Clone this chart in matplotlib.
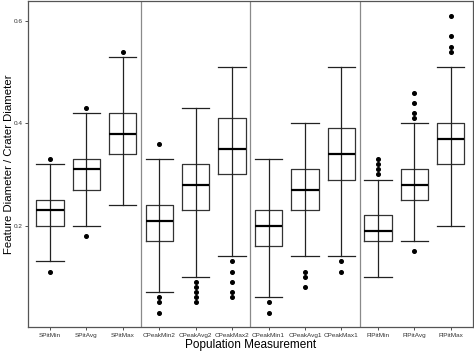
import matplotlib
matplotlib.use("Agg")
import matplotlib.pyplot as plt

plt.rcParams['font.family'] = ['Liberation Sans', 'DejaVu Sans']

# Box statistics
names = ['SPitMin', 'SPitAvg', 'SPitMax',
         'CPeakMin2', 'CPeakAvg2', 'CPeakMax2',
         'CPeakMin1', 'CPeakAvg1', 'CPeakMax1',
         'FlPitMin', 'FlPitAvg', 'FlPitMax']
whislo = [0.13, 0.20, 0.24, 0.07, 0.10, 0.14, 0.06, 0.14, 0.14, 0.10, 0.17, 0.20]
q1 = [0.20, 0.27, 0.34, 0.17, 0.23, 0.30, 0.16, 0.23, 0.29, 0.17, 0.25, 0.32]
med = [0.23, 0.31, 0.38, 0.21, 0.28, 0.35, 0.20, 0.27, 0.34, 0.19, 0.28, 0.37]
q3 = [0.25, 0.33, 0.42, 0.24, 0.32, 0.41, 0.23, 0.31, 0.39, 0.22, 0.31, 0.40]
whishi = [0.32, 0.42, 0.53, 0.33, 0.43, 0.51, 0.33, 0.40, 0.51, 0.29, 0.40, 0.51]
fliers = [
    [0.33, 0.11],
    [0.43, 0.18],
    [0.54],
    [0.36, 0.06, 0.05, 0.03],
    [0.09, 0.08, 0.07, 0.06, 0.05],
    [0.13, 0.11, 0.09, 0.07, 0.06],
    [0.05, 0.03],
    [0.11, 0.10, 0.08],
    [0.13, 0.11],
    [0.33, 0.32, 0.31, 0.30],
    [0.46, 0.44, 0.42, 0.41, 0.15],
    [0.61, 0.57, 0.55, 0.54],
]

stats = []
for i in range(len(names)):
    stats.append(dict(label=names[i], whislo=whislo[i], q1=q1[i], med=med[i],
                      q3=q3[i], whishi=whishi[i], fliers=fliers[i]))

fig = plt.figure(figsize=(4.74, 3.54), dpi=100)
ax = fig.add_axes([28 / 474, 1 - 327 / 354, (472.7 - 28) / 474, 326 / 354])

positions = list(range(1, len(names) + 1))
ax.bxp(stats, positions=positions, widths=0.75, capwidths=0.75,
       boxprops=dict(color='#333333', linewidth=0.9),
       whiskerprops=dict(color='#222222', linewidth=0.9),
       capprops=dict(color='#222222', linewidth=0.9),
       medianprops=dict(color='black', linewidth=1.6),
       flierprops=dict(marker='o', markerfacecolor='black', markeredgecolor='black',
                       markersize=2.6, linestyle='none'))
# whisker line continues through the box
ax.vlines(positions, q1, q3, color='#222222', linewidth=0.9)

# group separators
for xs in [3.5, 6.5, 9.5]:
    ax.axvline(xs, color='#8a8a8a', linewidth=0.9)

ax.set_xlim(0.4, 12.6)
ax.set_ylim(0.002, 0.639)
ax.set_yticks([0.2, 0.4, 0.6])
ax.set_yticklabels(['0.2', '0.4', '0.6'])
ax.set_xticks(positions)
ax.set_xticklabels(names)
ax.tick_params(axis='both', labelsize=4.6, length=2, width=0.6, colors='#333333',
               pad=2, labelcolor='#333333')

for s in ax.spines.values():
    s.set_color('#555555')
    s.set_linewidth(0.9)

ax.set_xlabel('Population Measurement', fontsize=8.5, labelpad=1)
ax.set_ylabel('Feature Diameter / Crater Diameter', fontsize=8.2)
ax.yaxis.set_label_coords(-0.031, 0.5)

fig.savefig('out.png', dpi=100)
